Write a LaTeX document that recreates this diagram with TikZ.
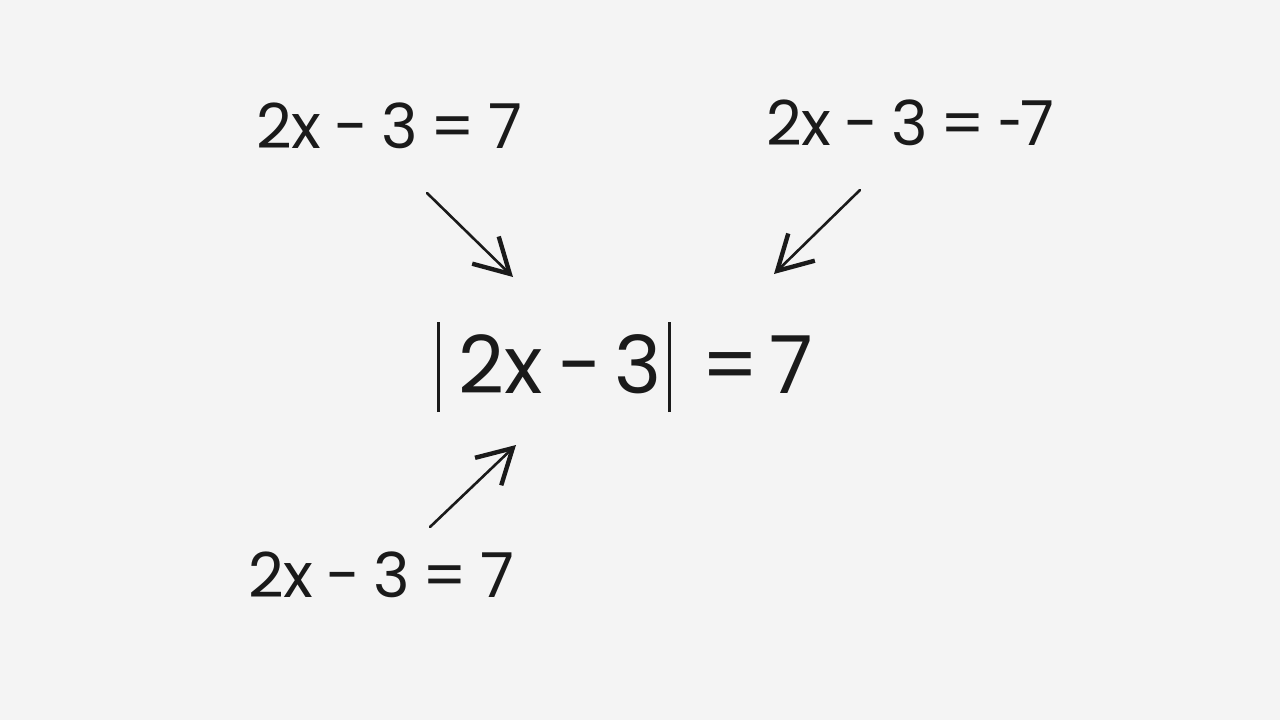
\documentclass[tikz,border=0pt]{standalone}
\usepackage{fontspec}
\setmainfont[WordSpace=0.78]{Poppins}
\usetikzlibrary{arrows.meta}
\definecolor{bg}{HTML}{F4F4F4}
\definecolor{ink}{HTML}{1A1A1A}
\newcommand{\absbar}{\rule[-19pt]{3pt}{90pt}}
\newcommand{\neghy}{\scalebox{0.72}[1]{-}\kern-3pt}
\tikzset{
  eq/.style={text=ink, inner sep=0pt, anchor=base west, font=\fontsize{62}{70}\selectfont},
  bigeq/.style={text=ink, inner sep=0pt, anchor=base west, font=\fontsize{80}{90}\selectfont},
  arr/.style={draw=ink, line width=2.6pt, line cap=round, -{Straight Barb[length=34pt,width=38pt,line width=4.4pt]}}
}
\begin{document}
\begin{tikzpicture}[x=1pt,y=-1pt]
\fill[bg] (0,0) rectangle (1280,720);
\useasboundingbox (0,0) rectangle (1280,720);
\node[eq] (tl) at (256,148) {2x - 3 = 7};
\node[eq] (tr) at (766,145) {2x - 3 =\hspace{13pt}\neghy7};
\node[bigeq] (mid) at (437,393) {\absbar\hspace{18pt}2x\hspace{16pt}-\hspace{12pt}3\hspace{6pt}\absbar\hspace{31pt}=\hspace{10pt}7};
\node[eq] (bl) at (248,597) {2x - 3 = 7};
\coordinate (a1s) at (427,193);
\coordinate (a1e) at (513,277);
\coordinate (a2s) at (860,190);
\coordinate (a2e) at (774,274);
\coordinate (a3s) at (430,527);
\coordinate (a3e) at (516,445);
\draw[arr] (a1s) -- (a1e);
\draw[arr] (a2s) -- (a2e);
\draw[arr] (a3s) -- (a3e);
\end{tikzpicture}
\end{document}
